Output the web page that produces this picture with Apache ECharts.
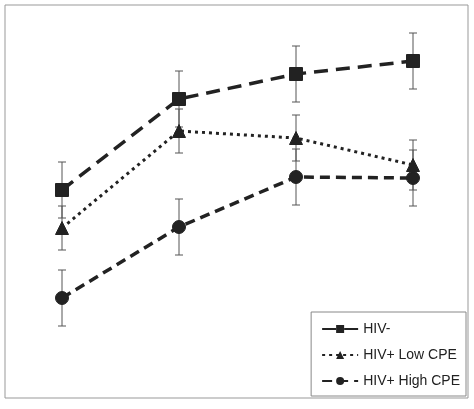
<!DOCTYPE html>
<html><head><meta charset="utf-8">
<script src="https://cdn.jsdelivr.net/npm/echarts@6/dist/echarts.min.js"></script>
<style>html,body{margin:0;padding:0;background:#fff}#c{width:474px;height:409px}</style>
</head><body><div id="c"></div>
<script>
// values in arbitrary units (higher = up)
const timepoints = [0, 1, 2, 3];
const hivNeg = [208, 299, 324, 337];
const hivNegErr = [28, 28, 28, 28];
const hivLow = [170, 267, 260, 233];
const hivLowErr = [22, 22, 23, 25];
const hivHigh = [100, 171, 221, 220];
const hivHighErr = [28, 28, 28, 28];
const names = ['HIV-', 'HIV+ Low CPE', 'HIV+ High CPE'];

const col = '#222';
function errSeries(vals, errs) {
  return {
    type: 'custom', silent: true, z: 1,
    data: vals.map((v, i) => [timepoints[i], v - errs[i], v + errs[i]]),
    renderItem: function (params, api) {
      const lo = api.coord([api.value(0), api.value(1)]);
      const hi = api.coord([api.value(0), api.value(2)]);
      const w = 4;
      const st = { stroke: '#555', lineWidth: 1 };
      return { type: 'group', children: [
        { type: 'line', shape: { x1: lo[0], y1: lo[1], x2: hi[0], y2: hi[1] }, style: st },
        { type: 'line', shape: { x1: lo[0]-w, y1: lo[1], x2: lo[0]+w, y2: lo[1] }, style: st },
        { type: 'line', shape: { x1: hi[0]-w, y1: hi[1], x2: hi[0]+w, y2: hi[1] }, style: st }
      ]};
    }
  };
}
function lineSeries(name, vals, sym, size, dash, width) {
  return {
    name: name, type: 'line', z: 3,
    data: vals.map((v, i) => [timepoints[i], v]),
    symbol: sym, symbolSize: size,
    itemStyle: { color: col, borderColor: col },
    lineStyle: { color: col, width: width, type: dash }
  };
}
const chart = echarts.init(document.getElementById('c'));
chart.setOption({
  animation: false,
  grid: { left: 62, right: 61, top: 5, bottom: 11 },
  xAxis: { type: 'value', min: 0, max: 3, show: false },
  yAxis: { type: 'value', min: 0, max: 393, show: false },
  graphic: [{ type: 'rect', shape: { x: 5, y: 5, width: 463, height: 393 },
    style: { fill: 'none', stroke: '#999', lineWidth: 1 } }],
  legend: {
    orient: 'vertical', right: 8, bottom: 13,
    data: names,
    borderColor: '#888', borderWidth: 1, padding: [10, 6, 8, 10],
    itemGap: 12, itemWidth: 36, itemHeight: 10,
    textStyle: { fontFamily: 'Liberation Sans', fontSize: 14, color: '#222' }
  },
  series: [
    errSeries(hivNeg, hivNegErr),
    errSeries(hivLow, hivLowErr),
    errSeries(hivHigh, hivHighErr),
    lineSeries(names[0], hivNeg, 'rect', 13, [14, 8], 3.5),
    lineSeries(names[1], hivLow, 'triangle', 13, [3, 4], 3),
    lineSeries(names[2], hivHigh, 'circle', 13, [10, 6], 3.5)
  ]
});
</script></body></html>
